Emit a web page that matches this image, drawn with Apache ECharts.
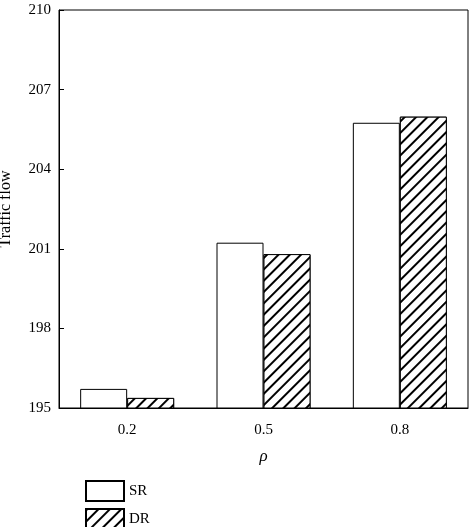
<!DOCTYPE html>
<html><head><meta charset="utf-8">
<script src="https://cdn.jsdelivr.net/npm/echarts@6/dist/echarts.min.js"></script>
<style>html,body{margin:0;padding:0;background:#fff}#c{width:474px;height:527px}</style>
</head><body><div id="c"></div>
<script>
const categories = ['0.2','0.5','0.8'];
const srValues = [195.72, 201.23, 205.75];
const drValues = [195.38, 200.8, 205.98];
const yTicks = [195, 198, 201, 204, 207, 210];

const chart = echarts.init(document.getElementById('c'));
const font = 'Liberation Serif';
const decal = {symbol:'rect', color:'#000', backgroundColor:'#fff', dashArrayX:[1,0], dashArrayY:[2,6], rotation:-Math.PI/4, symbolSize:1};
const legendBase = {left:80, itemWidth:38, itemHeight:20, icon:'rect',
  textStyle:{fontFamily:font, fontSize:15, color:'#000'}};
chart.setOption({
  backgroundColor:'#fff',
  animation:false,
  textStyle:{fontFamily:font},
  grid:{left:59, right:6, top:10, bottom:119, show:true, borderColor:'#000', borderWidth:1, backgroundColor:'transparent', outerBoundsMode:'none', containLabel:false},
  legend:[
    Object.assign({top:475, data:['SR']}, legendBase),
    Object.assign({top:503, data:['DR']}, legendBase)
  ],
  xAxis:{
    type:'category', data:categories,
    name:'ρ', nameLocation:'middle', nameGap:40,
    nameTextStyle:{fontFamily:font, fontStyle:'italic', fontSize:17, color:'#000'},
    axisLine:{lineStyle:{color:'#000', width:1}},
    axisTick:{show:false},
    axisLabel:{color:'#000', fontSize:15, margin:15, fontFamily:font}
  },
  yAxis:{
    type:'value', min:195, max:210, interval:3,
    name:'Traffic flow', nameLocation:'middle', nameGap:45,
    nameTextStyle:{fontFamily:font, fontSize:16, color:'#000'},
    axisLine:{show:true, lineStyle:{color:'#000', width:1}},
    axisTick:{show:true, inside:true, length:5, lineStyle:{color:'#000'}},
    axisLabel:{color:'#000', fontSize:15, margin:8, fontFamily:font, formatter:v=>yTicks.includes(v)?String(v):''},
    splitLine:{show:false}
  },
  series:[
    {name:'SR', type:'bar', data:srValues, barWidth:47, barGap:'0%',
     itemStyle:{color:'#fff', borderColor:'#000', borderWidth:1}},
    {name:'DR', type:'bar', data:drValues, barWidth:47,
     itemStyle:{color:'#fff', borderColor:'#000', borderWidth:1, decal:decal}}
  ]
});
</script></body></html>
